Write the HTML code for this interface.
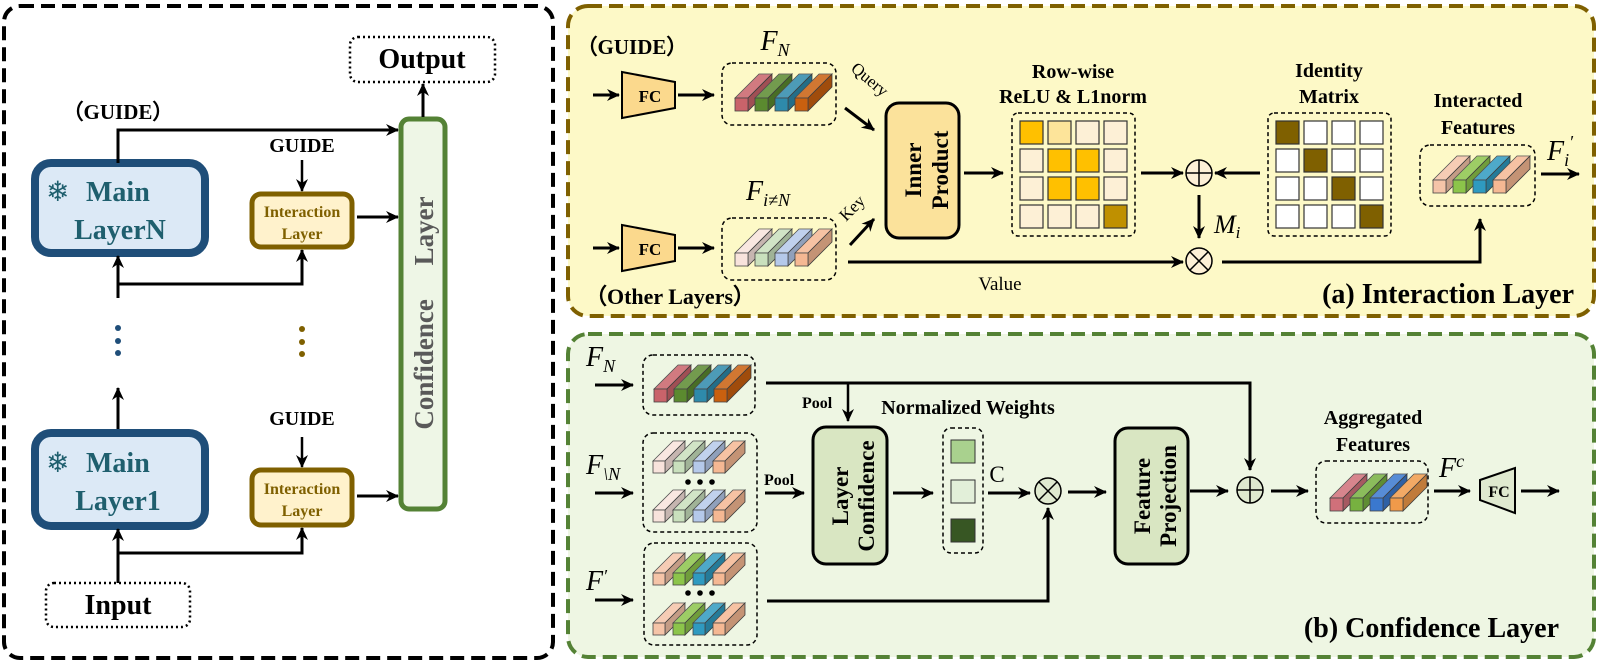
<!DOCTYPE html>
<html><head><meta charset="utf-8">
<style>
html,body{margin:0;padding:0;background:#fff;}
svg{display:block;}
text{font-family:"Liberation Serif","DejaVu Serif",serif;}
.b{font-weight:bold;}
.i{font-style:italic;}
</style></head>
<body>
<svg id="s" width="1601" height="665" viewBox="0 0 1601 665" xmlns="http://www.w3.org/2000/svg">
<defs>
<marker id="ar" markerWidth="14" markerHeight="12" refX="12" refY="6" orient="auto" markerUnits="userSpaceOnUse">
<path d="M0,0 L13,6 L0,12 L4,6 Z" fill="#000"/>
</marker>
</defs>

<!-- LEFT PANEL -->
<rect x="4" y="6" width="549" height="652" rx="16" fill="#fff" stroke="#000" stroke-width="4" stroke-dasharray="14,7"/>
<rect x="350" y="37" width="145" height="45" rx="8" fill="#fff" stroke="#000" stroke-width="2.5" stroke-dasharray="2,3"/>
<text x="422" y="68" class="b" font-size="28" text-anchor="middle">Output</text>
<text x="118" y="119" class="b" font-size="21" text-anchor="middle">（GUIDE）</text>

<rect x="35" y="163" width="170" height="90" rx="16" fill="#dce9f6" stroke="#1f4e79" stroke-width="8"/>
<text x="46" y="201" font-size="28" fill="#1f5f6e">❄</text>
<text x="86" y="201" class="b" font-size="28" fill="#1f5f6e">Main</text>
<text x="120" y="239" class="b" font-size="28" fill="#1f5f6e" text-anchor="middle">LayerN</text>

<path d="M118,163 V130 H398" fill="none" stroke="#000" stroke-width="3" marker-end="url(#ar)"/>
<text x="302" y="152" class="b" font-size="20" text-anchor="middle">GUIDE</text>
<path d="M302,160 V191" stroke="#000" stroke-width="2.5" marker-end="url(#ar)"/>
<rect x="252" y="194" width="100" height="53" rx="9" fill="#fff2cc" stroke="#7f6000" stroke-width="5"/>
<text x="302" y="217" class="b" font-size="16" fill="#7f6000" text-anchor="middle">Interaction</text>
<text x="302" y="239" class="b" font-size="16" fill="#7f6000" text-anchor="middle">Layer</text>
<path d="M357,217 H398" stroke="#000" stroke-width="3" marker-end="url(#ar)"/>

<rect x="401" y="119" width="44" height="390" rx="8" fill="#eef6e6" stroke="#548235" stroke-width="5"/>
<text transform="translate(433,313) rotate(-90)" class="b" font-size="27" fill="#595959" text-anchor="middle">Confidence&#160;&#160;&#160;&#160;&#160;Layer</text>
<path d="M423,117 V84" stroke="#000" stroke-width="3" marker-end="url(#ar)"/>

<path d="M118,298 V256" stroke="#000" stroke-width="3" marker-end="url(#ar)"/>
<path d="M118,284 H302 V250" fill="none" stroke="#000" stroke-width="3" marker-end="url(#ar)"/>
<g fill="#1f4e79"><circle cx="118" cy="328" r="3"/><circle cx="118" cy="341" r="3"/><circle cx="118" cy="353" r="3"/></g>
<g fill="#7f6000"><circle cx="302" cy="329" r="3"/><circle cx="302" cy="342" r="3"/><circle cx="302" cy="354" r="3"/></g>
<path d="M118,436 V388" stroke="#000" stroke-width="3" marker-end="url(#ar)"/>

<rect x="35" y="433" width="170" height="93" rx="16" fill="#dce9f6" stroke="#1f4e79" stroke-width="8"/>
<text x="46" y="472" font-size="28" fill="#1f5f6e">❄</text>
<text x="86" y="472" class="b" font-size="28" fill="#1f5f6e">Main</text>
<text x="118" y="510" class="b" font-size="28" fill="#1f5f6e" text-anchor="middle">Layer1</text>

<text x="302" y="425" class="b" font-size="20" text-anchor="middle">GUIDE</text>
<path d="M302,437 V467" stroke="#000" stroke-width="2.5" marker-end="url(#ar)"/>
<rect x="252" y="470" width="100" height="55" rx="9" fill="#fff2cc" stroke="#7f6000" stroke-width="5"/>
<text x="302" y="494" class="b" font-size="16" fill="#7f6000" text-anchor="middle">Interaction</text>
<text x="302" y="516" class="b" font-size="16" fill="#7f6000" text-anchor="middle">Layer</text>
<path d="M357,496 H398" stroke="#000" stroke-width="3" marker-end="url(#ar)"/>

<rect x="46" y="583" width="144" height="44" rx="8" fill="#fff" stroke="#000" stroke-width="2.5" stroke-dasharray="2,3"/>
<text x="118" y="614" class="b" font-size="28" text-anchor="middle">Input</text>
<path d="M118,583 V529" stroke="#000" stroke-width="3" marker-end="url(#ar)"/>
<path d="M118,553 H302 V528" fill="none" stroke="#000" stroke-width="3" marker-end="url(#ar)"/>

<!-- PANEL A -->
<rect x="568" y="6" width="1026" height="310" rx="20" fill="#fdf9c7" stroke="#7f6000" stroke-width="4" stroke-dasharray="14,7"/>
<text x="632" y="54" class="b" font-size="21" text-anchor="middle">（GUIDE）</text>
<path d="M593,95 H619" stroke="#000" stroke-width="3" marker-end="url(#ar)"/>
<path d="M622,72 L675,82 L675,108 L622,118 Z" fill="#fbd98d" stroke="#000" stroke-width="2"/>
<text x="650" y="102" class="b" font-size="17" text-anchor="middle">FC</text>
<path d="M678,95 H714" stroke="#000" stroke-width="3" marker-end="url(#ar)"/>
<rect x="722" y="63" width="114" height="62" rx="10" fill="none" stroke="#000" stroke-width="1.5" stroke-dasharray="4,3"/>
<text x="775" y="50" class="i" font-size="28" text-anchor="middle">F<tspan font-size="18" dy="6">N</tspan></text>
<text transform="translate(850,70) rotate(40)" font-size="17">Query</text>
<path d="M845,108 L874,130" stroke="#000" stroke-width="3" marker-end="url(#ar)"/>

<text x="768" y="200" class="i" font-size="28" text-anchor="middle">F<tspan font-size="18" dy="6">i≠N</tspan></text>
<text transform="translate(846,222) rotate(-45)" font-size="17">Key</text>
<path d="M850,245 L874,219" stroke="#000" stroke-width="3" marker-end="url(#ar)"/>
<path d="M593,248 H619" stroke="#000" stroke-width="3" marker-end="url(#ar)"/>
<path d="M622,225 L675,235 L675,261 L622,271 Z" fill="#fbd98d" stroke="#000" stroke-width="2"/>
<text x="650" y="255" class="b" font-size="17" text-anchor="middle">FC</text>
<path d="M678,248 H714" stroke="#000" stroke-width="3" marker-end="url(#ar)"/>
<rect x="722" y="218" width="114" height="62" rx="10" fill="none" stroke="#000" stroke-width="1.5" stroke-dasharray="4,3"/>
<text x="670" y="304" class="b" font-size="22" text-anchor="middle">（Other Layers）</text>
<path d="M848,262 H1183" stroke="#000" stroke-width="3" marker-end="url(#ar)"/>
<text x="1000" y="290" font-size="19" text-anchor="middle">Value</text>

<rect x="886" y="103" width="73" height="135" rx="13" fill="#fbe29b" stroke="#000" stroke-width="3"/>
<text transform="translate(921,170) rotate(-90)" class="b" font-size="23" text-anchor="middle">Inner</text>
<text transform="translate(948,170) rotate(-90)" class="b" font-size="23" text-anchor="middle">Product</text>
<path d="M964,173 H1003" stroke="#000" stroke-width="3" marker-end="url(#ar)"/>

<text x="1073" y="78" class="b" font-size="20" text-anchor="middle">Row-wise</text>
<text x="1073" y="103" class="b" font-size="20" text-anchor="middle">ReLU &amp; L1norm</text>
<rect x="1012" y="113" width="123" height="123" rx="6" fill="none" stroke="#000" stroke-width="1.5" stroke-dasharray="4,3"/>
<g id="m1" stroke="#333" stroke-width="1.2"></g>

<circle cx="1199" cy="173" r="13" fill="#fdf0d6" stroke="#000" stroke-width="1.5"/>
<path d="M1186,173 H1212 M1199,160 V186" stroke="#000" stroke-width="1.5"/>
<path d="M1141,173 H1183" stroke="#000" stroke-width="3" marker-end="url(#ar)"/>
<path d="M1260,173 H1215" stroke="#000" stroke-width="3" marker-end="url(#ar)"/>
<path d="M1199,195 V238" stroke="#000" stroke-width="3" marker-end="url(#ar)"/>
<text x="1214" y="233" class="i" font-size="26">M<tspan font-size="17" dy="5">i</tspan></text>
<circle cx="1199" cy="261" r="13" fill="#fdf0d6" stroke="#000" stroke-width="1.5"/>
<path d="M1190,252 L1208,270 M1208,252 L1190,270" stroke="#000" stroke-width="1.5"/>

<text x="1329" y="77" class="b" font-size="20" text-anchor="middle">Identity</text>
<text x="1329" y="103" class="b" font-size="20" text-anchor="middle">Matrix</text>
<rect x="1268" y="113" width="123" height="123" rx="6" fill="none" stroke="#000" stroke-width="1.5" stroke-dasharray="4,3"/>
<g id="m2" stroke="#333" stroke-width="1.2"></g>

<path d="M1222,262 H1480 V219" fill="none" stroke="#000" stroke-width="3" marker-end="url(#ar)"/>
<text x="1478" y="107" class="b" font-size="20" text-anchor="middle">Interacted</text>
<text x="1478" y="134" class="b" font-size="20" text-anchor="middle">Features</text>
<rect x="1420" y="145" width="115" height="61" rx="10" fill="none" stroke="#000" stroke-width="1.5" stroke-dasharray="4,3"/>
<text x="1547" y="160" class="i" font-size="28">F<tspan font-size="18" dy="6">i</tspan><tspan dy="-18" font-size="18">′</tspan></text>
<path d="M1541,174 H1579" stroke="#000" stroke-width="3" marker-end="url(#ar)"/>
<text x="1574" y="303" class="b" font-size="28" text-anchor="end">(a) Interaction Layer</text>

<!-- PANEL B -->
<rect x="568" y="334" width="1026" height="323" rx="20" fill="#eef6e3" stroke="#548235" stroke-width="4" stroke-dasharray="14,7"/>
<text x="586" y="366" class="i" font-size="28">F<tspan font-size="18" dy="6">N</tspan></text>
<path d="M595,385 H633" stroke="#000" stroke-width="3" marker-end="url(#ar)"/>
<rect x="643" y="355" width="112" height="60" rx="10" fill="none" stroke="#000" stroke-width="1.5" stroke-dasharray="4,3"/>
<path d="M766,383 H1250 V470" fill="none" stroke="#000" stroke-width="3" marker-end="url(#ar)"/>
<path d="M848,383 V421" stroke="#000" stroke-width="2.5" marker-end="url(#ar)"/>
<text x="802" y="408" class="b" font-size="16">Pool</text>
<text x="968" y="414" class="b" font-size="20" text-anchor="middle">Normalized Weights</text>

<text x="586" y="474" class="i" font-size="28">F<tspan font-size="18" dy="6">\N</tspan></text>
<path d="M595,493 H633" stroke="#000" stroke-width="3" marker-end="url(#ar)"/>
<rect x="643" y="433" width="114" height="99" rx="10" fill="none" stroke="#000" stroke-width="1.5" stroke-dasharray="4,3"/>
<text x="764" y="485" class="b" font-size="16">Pool</text>
<path d="M765,493 H804" stroke="#000" stroke-width="3" marker-end="url(#ar)"/>
<rect x="813" y="427" width="74" height="137" rx="13" fill="#d9e6c2" stroke="#000" stroke-width="3"/>
<text transform="translate(848,496) rotate(-90)" class="b" font-size="23" text-anchor="middle">Layer</text>
<text transform="translate(874,496) rotate(-90)" class="b" font-size="23" text-anchor="middle">Confidence</text>
<path d="M893,493 H933" stroke="#000" stroke-width="3" marker-end="url(#ar)"/>
<rect x="943" y="428" width="40" height="125" rx="8" fill="none" stroke="#000" stroke-width="1.5" stroke-dasharray="4,3"/>
<rect x="951" y="440" width="24" height="23" fill="#a9d18e" stroke="#333"/>
<rect x="951" y="480" width="24" height="23" fill="#e2efd9" stroke="#333"/>
<rect x="951" y="519" width="24" height="23" fill="#375623" stroke="#333"/>
<text x="997" y="482" font-size="23" text-anchor="middle" font-family="Liberation Sans,sans-serif">C</text>
<path d="M988,493 H1030" stroke="#000" stroke-width="3" marker-end="url(#ar)"/>
<circle cx="1048" cy="491" r="13" fill="#dfe9cf" stroke="#000" stroke-width="1.5"/>
<path d="M1039,482 L1057,500 M1057,482 L1039,500" stroke="#000" stroke-width="1.5"/>

<text x="586" y="590" class="i" font-size="28">F<tspan dy="-8" font-size="18">′</tspan></text>
<path d="M595,600 H633" stroke="#000" stroke-width="3" marker-end="url(#ar)"/>
<rect x="644" y="543" width="113" height="102" rx="10" fill="none" stroke="#000" stroke-width="1.5" stroke-dasharray="4,3"/>
<path d="M767,601 H1048 V508" fill="none" stroke="#000" stroke-width="3" marker-end="url(#ar)"/>

<path d="M1068,492 H1106" stroke="#000" stroke-width="3" marker-end="url(#ar)"/>
<rect x="1115" y="428" width="73" height="136" rx="13" fill="#d9e6c2" stroke="#000" stroke-width="3"/>
<text transform="translate(1150,496) rotate(-90)" class="b" font-size="23" text-anchor="middle">Feature</text>
<text transform="translate(1176,496) rotate(-90)" class="b" font-size="23" text-anchor="middle">Projection</text>
<path d="M1190,491 H1228" stroke="#000" stroke-width="3" marker-end="url(#ar)"/>
<circle cx="1250" cy="490" r="13" fill="#dfe9cf" stroke="#000" stroke-width="1.5"/>
<path d="M1237,490 H1263 M1250,477 V503" stroke="#000" stroke-width="1.5"/>
<path d="M1271,491 H1308" stroke="#000" stroke-width="3" marker-end="url(#ar)"/>
<text x="1373" y="424" class="b" font-size="20" text-anchor="middle">Aggregated</text>
<text x="1373" y="451" class="b" font-size="20" text-anchor="middle">Features</text>
<rect x="1316" y="461" width="112" height="62" rx="10" fill="none" stroke="#000" stroke-width="1.5" stroke-dasharray="4,3"/>
<text x="1439" y="477" class="i" font-size="28">F<tspan dy="-10" font-size="18">c</tspan></text>
<path d="M1434,491 H1470" stroke="#000" stroke-width="3" marker-end="url(#ar)"/>
<path d="M1480,480 L1515,468 L1515,513 L1480,500 Z" fill="#dfe9cf" stroke="#000" stroke-width="2"/>
<text x="1499" y="497" class="b" font-size="16" text-anchor="middle">FC</text>
<path d="M1521,491 H1559" stroke="#000" stroke-width="3" marker-end="url(#ar)"/>
<text x="1559" y="637" class="b" font-size="28" text-anchor="end">(b) Confidence Layer</text>
<g id="bars"></g>
</svg>
<script>
var NS="http://www.w3.org/2000/svg";
function el(p,t,a){var e=document.createElementNS(NS,t);for(var k in a)e.setAttribute(k,a[k]);p.appendChild(e);return e;}
var g=document.getElementById('bars');
function bar(x,y,c,w,d){w=w||13;d=d||24;var t=y-w;
 el(g,'polygon',{points:[x,t,x+d,t-d,x+w+d,t-d,x+w,t].join(' '),fill:c,stroke:'#444','stroke-width':0.8});
 el(g,'polygon',{points:[x,t,x+d,t-d,x+w+d,t-d,x+w,t].join(' '),fill:'#fff',opacity:0.15});
 el(g,'polygon',{points:[x+w,t,x+w+d,t-d,x+w+d,y-d,x+w,y].join(' '),fill:c,stroke:'#444','stroke-width':0.8});
 el(g,'polygon',{points:[x+w,t,x+w+d,t-d,x+w+d,y-d,x+w,y].join(' '),fill:'#000',opacity:0.2});
 el(g,'rect',{x:x,y:t,width:w,height:w,fill:c,stroke:'#444','stroke-width':0.8});}
function row(x,y,cs,w,d){for(var i=0;i<4;i++)bar(x+i*20,y,cs[i],w,d);}
var strong=['#c9636a','#5b8a2f','#2e8aab','#c9600f'];
var pale=['#f8e3dc','#c9e0bd','#b5c9ea','#f5b893'];
var mix=['#f5c4a8','#8cc54a','#2f9ac0','#f5b893'];
var agg=['#d0707a','#77b140','#3a78cf','#f09a4a'];
row(735,111,strong);
row(735,266,pale);
row(1433,193,mix);
row(654,402,strong);
row(653,473,pale,12,20);
row(653,522,pale,12,20);
row(653,585,mix,12,20);
row(653,635,mix,12,20);
row(1330,511,agg);
[[688,482],[700,482],[712,482],[688,593],[700,593],[712,593]].forEach(function(p){el(g,'circle',{cx:p[0],cy:p[1],r:2.8,fill:'#000'});});
var G='#ffc000',P='#fdf0d6',L='#fde49a',D='#bf9000';
var m1=[[G,L,P,P],[P,G,G,P],[P,G,G,P],[P,P,P,D]];
var a=document.getElementById('m1'),b=document.getElementById('m2');
for(var r=0;r<4;r++)for(var c=0;c<4;c++){
 el(a,'rect',{x:1020+c*28,y:121+r*28,width:23,height:23,fill:m1[r][c]});
 el(b,'rect',{x:1276+c*28,y:121+r*28,width:23,height:23,fill:r==c?'#7f6000':'#fff'});}
</script>
</body></html>
